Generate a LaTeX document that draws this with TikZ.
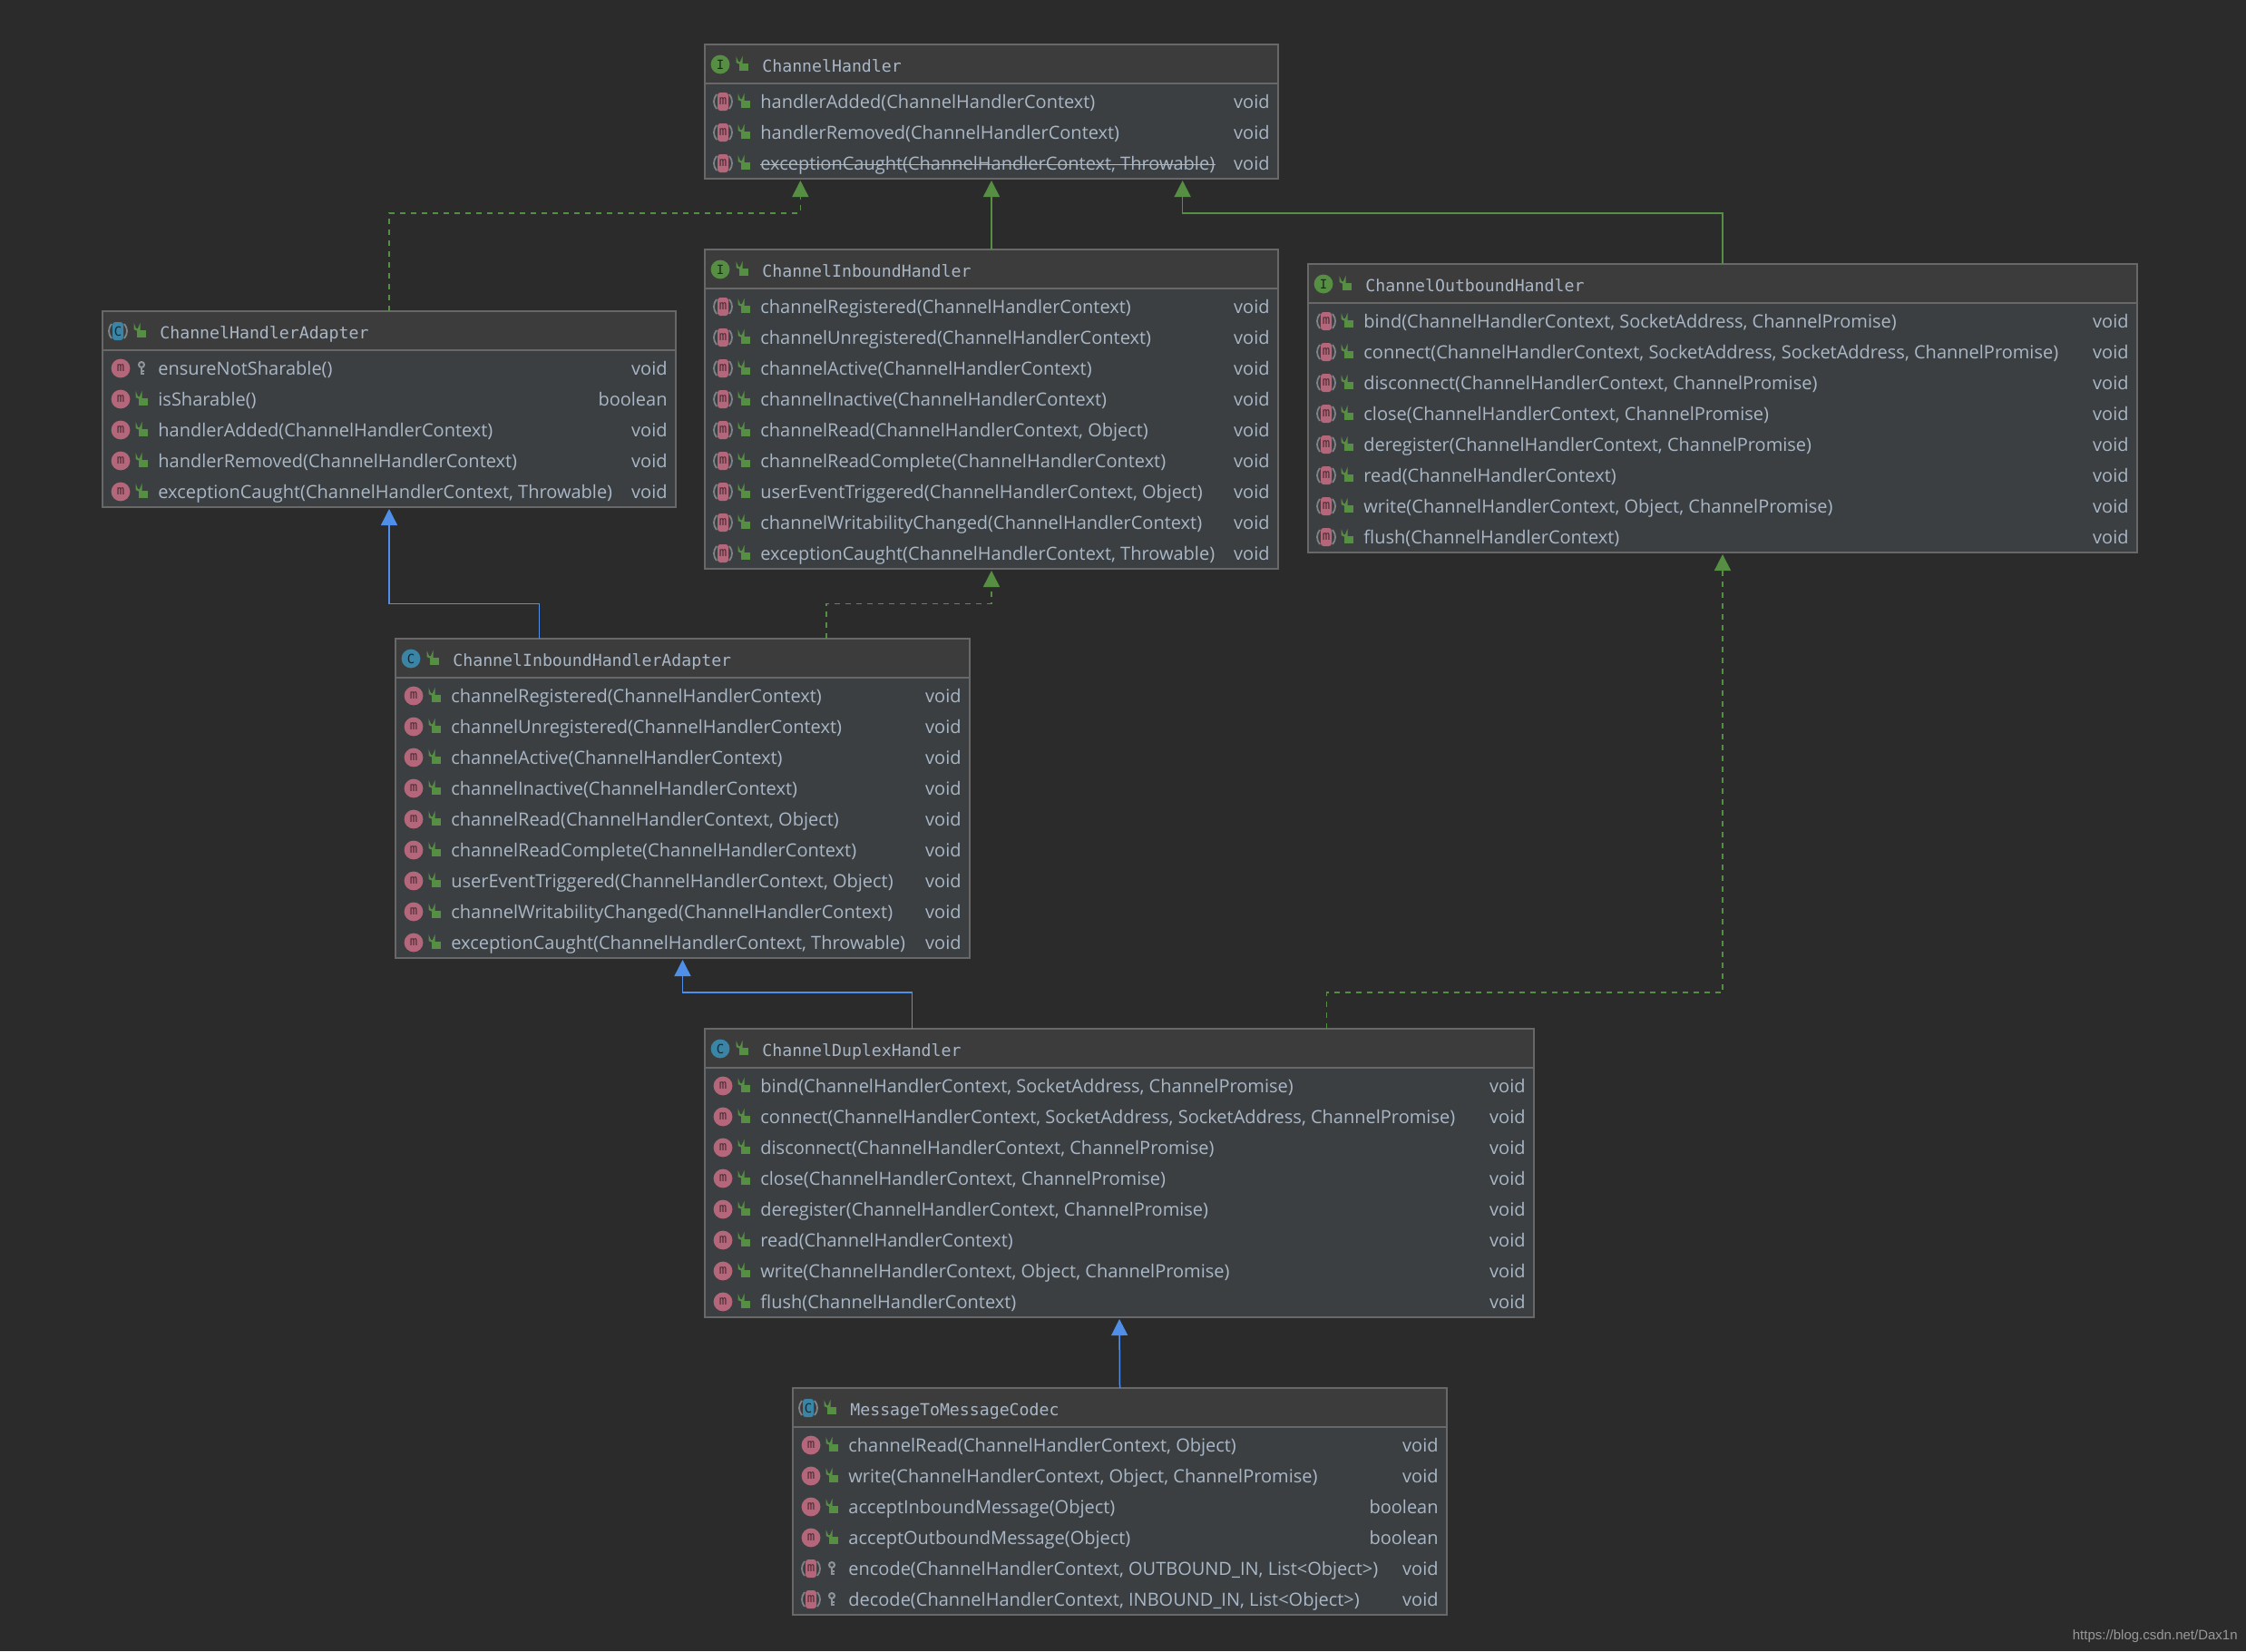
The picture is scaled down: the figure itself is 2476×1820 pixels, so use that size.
\documentclass[tikz,border=0pt]{standalone}
\usepackage{fontspec}
\setmainfont{Open Sans}
\newfontfamily\titlefont{DejaVu Sans Mono}
\newfontfamily\markfont{Liberation Sans}
\usetikzlibrary{positioning,arrows.meta,calc}
\definecolor{canvas}{HTML}{2B2B2B}
\definecolor{bodycol}{HTML}{3C3F41}
\definecolor{headcol}{HTML}{3C3C3C}
\definecolor{edgecol}{HTML}{686868}
\definecolor{txtcol}{HTML}{A9B7C6}
\definecolor{pinkcol}{HTML}{B4667A}
\definecolor{inkcol}{HTML}{4A2A33}
\definecolor{parcol}{HTML}{7E8488}
\definecolor{greencol}{HTML}{568F43}
\definecolor{bluecol}{HTML}{4F8FEA}
\definecolor{tealcol}{HTML}{3A85A6}
\definecolor{keycol}{HTML}{8C949C}
\tikzset{
  classbox/.style={draw=edgecol, fill=bodycol, line width=.8pt, inner sep=0pt, outer sep=0pt, anchor=north west},
  headbox/.style={draw=edgecol, fill=headcol, line width=.8pt, inner sep=0pt, outer sep=0pt, anchor=north west, minimum height=21.5pt},
  titlelab/.style={font=\titlefont\fontsize{9.1}{10}\selectfont, text=txtcol, inner sep=0pt, anchor=base west},
  siglab/.style={font=\fontsize{10}{12}\selectfont, text=txtcol, inner sep=0pt, anchor=base west},
  retlab/.style={siglab, anchor=base east},
  icolab/.style={font=\titlefont\fontsize{7}{8}\selectfont, text=inkcol, inner sep=0pt},
  inherit/.style={-{Triangle[length=9pt,width=9pt]}, line width=.75pt, shorten >=1pt},
  greenline/.style={inherit, draw=greencol, -{Triangle[length=9pt,width=9pt,fill=greencol]}},
  blueline/.style={inherit, draw=bluecol, -{Triangle[length=9pt,width=9pt,fill=bluecol]}},
  pics/mplain/.style={code={
    \fill[pinkcol] (0,0) circle (5.2pt);
    \node[icolab] (m) {m};
  }},
  pics/mabs/.style={code={
    \draw[parcol, line width=.9pt] (-7,-8) .. controls (-11,-3) and (-11,3) .. (-7,8);
    \draw[parcol, line width=.9pt] (7,-8) .. controls (11,-3) and (11,3) .. (7,8);
    \fill[pinkcol, rounded corners=1.5pt] (-6,-10) rectangle (6,10);
    \node[icolab] (m) {m};
  }},
  pics/iface/.style={code={
    \fill[greencol] (0,0) circle (5.2pt);
    \node[icolab, text=black!70!greencol] (i) {I};
  }},
  pics/cplain/.style={code={
    \fill[tealcol] (0,0) circle (5.2pt);
    \node[icolab, text=black!70!tealcol] (c) {C};
  }},
  pics/cabs/.style={code={
    \draw[parcol, line width=.9pt] (-7,-8) .. controls (-11,-3) and (-11,3) .. (-7,8);
    \draw[parcol, line width=.9pt] (7,-8) .. controls (11,-3) and (11,3) .. (7,8);
    \fill[tealcol, rounded corners=1.5pt] (-6,-10) rectangle (6,10);
    \node[icolab, text=black!70!tealcol] (c) {C};
  }},
  pics/pub/.style={code={
    \fill[greencol] (-3.5,-1) rectangle (6.5,7);
    \draw[greencol, line width=1pt] (-5.5,-2) -- (-5.5,-4) arc (180:0:2.5) -- (-.5,-1);
  }},
  pics/prv/.style={code={
    \draw[keycol, line width=1pt] (0,-4) circle (3);
    \draw[keycol, line width=1.1pt] (0,-1) -- (0,7) (0,3) -- (3,3) (0,6) -- (3,6);
  }},
}
% box with its header band
\newcommand{\classnode}[8]{
  \node[classbox, minimum width=#4*.5pt, minimum height={(46+34*#5)*.5pt}] (#1) at (#2,#3) {};
  \node[headbox, minimum width=#4*.5pt] (#1h) at (#1.north west) {};
  \pic at ($(#1.north west)+(17,22)$) {#6};
  \pic at ($(#1.north west)+(41,22)$) {pub};
  \node[titlelab] (#1t) at ($(#1.north west)+(63,30)$) {#7};
  \foreach \ic/\vis/\sig/\ret [count=\k from 0] in {#8} {
    \pic at ($(#1.north west)+(20,{63+34*\k})$) {\ic};
    \pic at ($(#1.north west)+(43,{63+34*\k})$) {\vis};
    \node[siglab] (#1s\k) at ($(#1.north west)+(61,{70+34*\k})$) {\sig};
    \node[retlab] (#1r\k) at ($(#1.north east)+(-9,{70+34*\k})$) {\ret};
  }
}
\begin{document}
\begin{tikzpicture}[x=.5pt, y=-.5pt]
\fill[canvas] (0,0) rectangle (2476,1820);

\classnode{ch}{777}{49}{632}{3}{iface}{ChannelHandler}{
  mabs/pub/{handlerAdded(ChannelHandlerContext)}/void,
  mabs/pub/{handlerRemoved(ChannelHandlerContext)}/void,
  mabs/pub/{exceptionCaught(ChannelHandlerContext, Throwable)}/void}
\draw[txtcol, line width=.5pt] (chs2.west) -- (chs2.east);

\classnode{inb}{777}{275}{632}{9}{iface}{ChannelInboundHandler}{
  mabs/pub/{channelRegistered(ChannelHandlerContext)}/void,
  mabs/pub/{channelUnregistered(ChannelHandlerContext)}/void,
  mabs/pub/{channelActive(ChannelHandlerContext)}/void,
  mabs/pub/{channelInactive(ChannelHandlerContext)}/void,
  mabs/pub/{channelRead(ChannelHandlerContext, Object)}/void,
  mabs/pub/{channelReadComplete(ChannelHandlerContext)}/void,
  mabs/pub/{userEventTriggered(ChannelHandlerContext, Object)}/void,
  mabs/pub/{channelWritabilityChanged(ChannelHandlerContext)}/void,
  mabs/pub/{exceptionCaught(ChannelHandlerContext, Throwable)}/void}

\classnode{had}{113}{343}{632}{5}{cabs}{ChannelHandlerAdapter}{
  mplain/prv/{ensureNotSharable()}/void,
  mplain/pub/{isSharable()}/boolean,
  mplain/pub/{handlerAdded(ChannelHandlerContext)}/void,
  mplain/pub/{handlerRemoved(ChannelHandlerContext)}/void,
  mplain/pub/{exceptionCaught(ChannelHandlerContext, Throwable)}/void}

\classnode{outb}{1442}{291}{914}{8}{iface}{ChannelOutboundHandler}{
  mabs/pub/{bind(ChannelHandlerContext, SocketAddress, ChannelPromise)}/void,
  mabs/pub/{connect(ChannelHandlerContext, SocketAddress, SocketAddress, ChannelPromise)}/void,
  mabs/pub/{disconnect(ChannelHandlerContext, ChannelPromise)}/void,
  mabs/pub/{close(ChannelHandlerContext, ChannelPromise)}/void,
  mabs/pub/{deregister(ChannelHandlerContext, ChannelPromise)}/void,
  mabs/pub/{read(ChannelHandlerContext)}/void,
  mabs/pub/{write(ChannelHandlerContext, Object, ChannelPromise)}/void,
  mabs/pub/{flush(ChannelHandlerContext)}/void}

\classnode{iad}{436}{704}{633}{9}{cplain}{ChannelInboundHandlerAdapter}{
  mplain/pub/{channelRegistered(ChannelHandlerContext)}/void,
  mplain/pub/{channelUnregistered(ChannelHandlerContext)}/void,
  mplain/pub/{channelActive(ChannelHandlerContext)}/void,
  mplain/pub/{channelInactive(ChannelHandlerContext)}/void,
  mplain/pub/{channelRead(ChannelHandlerContext, Object)}/void,
  mplain/pub/{channelReadComplete(ChannelHandlerContext)}/void,
  mplain/pub/{userEventTriggered(ChannelHandlerContext, Object)}/void,
  mplain/pub/{channelWritabilityChanged(ChannelHandlerContext)}/void,
  mplain/pub/{exceptionCaught(ChannelHandlerContext, Throwable)}/void}

\classnode{dup}{777}{1134}{914}{8}{cplain}{ChannelDuplexHandler}{
  mplain/pub/{bind(ChannelHandlerContext, SocketAddress, ChannelPromise)}/void,
  mplain/pub/{connect(ChannelHandlerContext, SocketAddress, SocketAddress, ChannelPromise)}/void,
  mplain/pub/{disconnect(ChannelHandlerContext, ChannelPromise)}/void,
  mplain/pub/{close(ChannelHandlerContext, ChannelPromise)}/void,
  mplain/pub/{deregister(ChannelHandlerContext, ChannelPromise)}/void,
  mplain/pub/{read(ChannelHandlerContext)}/void,
  mplain/pub/{write(ChannelHandlerContext, Object, ChannelPromise)}/void,
  mplain/pub/{flush(ChannelHandlerContext)}/void}

\classnode{cod}{874}{1530}{721}{6}{cabs}{MessageToMessageCodec}{
  mplain/pub/{channelRead(ChannelHandlerContext, Object)}/void,
  mplain/pub/{write(ChannelHandlerContext, Object, ChannelPromise)}/void,
  mplain/pub/{acceptInboundMessage(Object)}/boolean,
  mplain/pub/{acceptOutboundMessage(Object)}/boolean,
  mabs/prv/{encode(ChannelHandlerContext, OUTBOUND\_IN, List<Object>)}/void,
  mabs/prv/{decode(ChannelHandlerContext, INBOUND\_IN, List<Object>)}/void}

% attachment points and bend levels
\coordinate (chl) at ($(ch.south west)!.1667!(ch.south east)$);
\coordinate (chr) at ($(ch.south west)!.8333!(ch.south east)$);
\coordinate (iadl) at ($(iad.north west)!.25!(iad.north east)$);
\coordinate (iadr) at ($(iad.north west)!.75!(iad.north east)$);
\coordinate (dupl) at ($(dup.north west)!.25!(dup.north east)$);
\coordinate (dupr) at ($(dup.north west)!.75!(dup.north east)$);
\coordinate (bendtop) at (0,235);
\coordinate (bendmid) at (0,665.5);
\coordinate (bendlow) at (0,1094);

\draw[greenline, dashed] (had.north) |- (bendtop -| chl) -- (chl);
\draw[greenline] (inb.north) -- (ch.south);
\draw[greenline] (outb.north) |- (bendtop -| chr) -- (chr);
\draw[blueline] (iadl) |- (bendmid -| had.south) -- (had.south);
\draw[greenline, dashed] (iadr) |- (bendmid -| inb.south) -- (inb.south);
\draw[blueline] (dupl) |- (bendlow -| iad.south) -- (iad.south);
\draw[greenline, dashed] (dupr) |- (bendlow -| outb.south) -- (outb.south);
\draw[blueline] (cod.north) -- (dup.south);

\node[font=\markfont\fontsize{7.5}{9}\selectfont, text=black!40!white, inner sep=0pt, anchor=base east] (mark) at (2467,1807) {https://blog.csdn.net/Dax1n};
\end{tikzpicture}
\end{document}
